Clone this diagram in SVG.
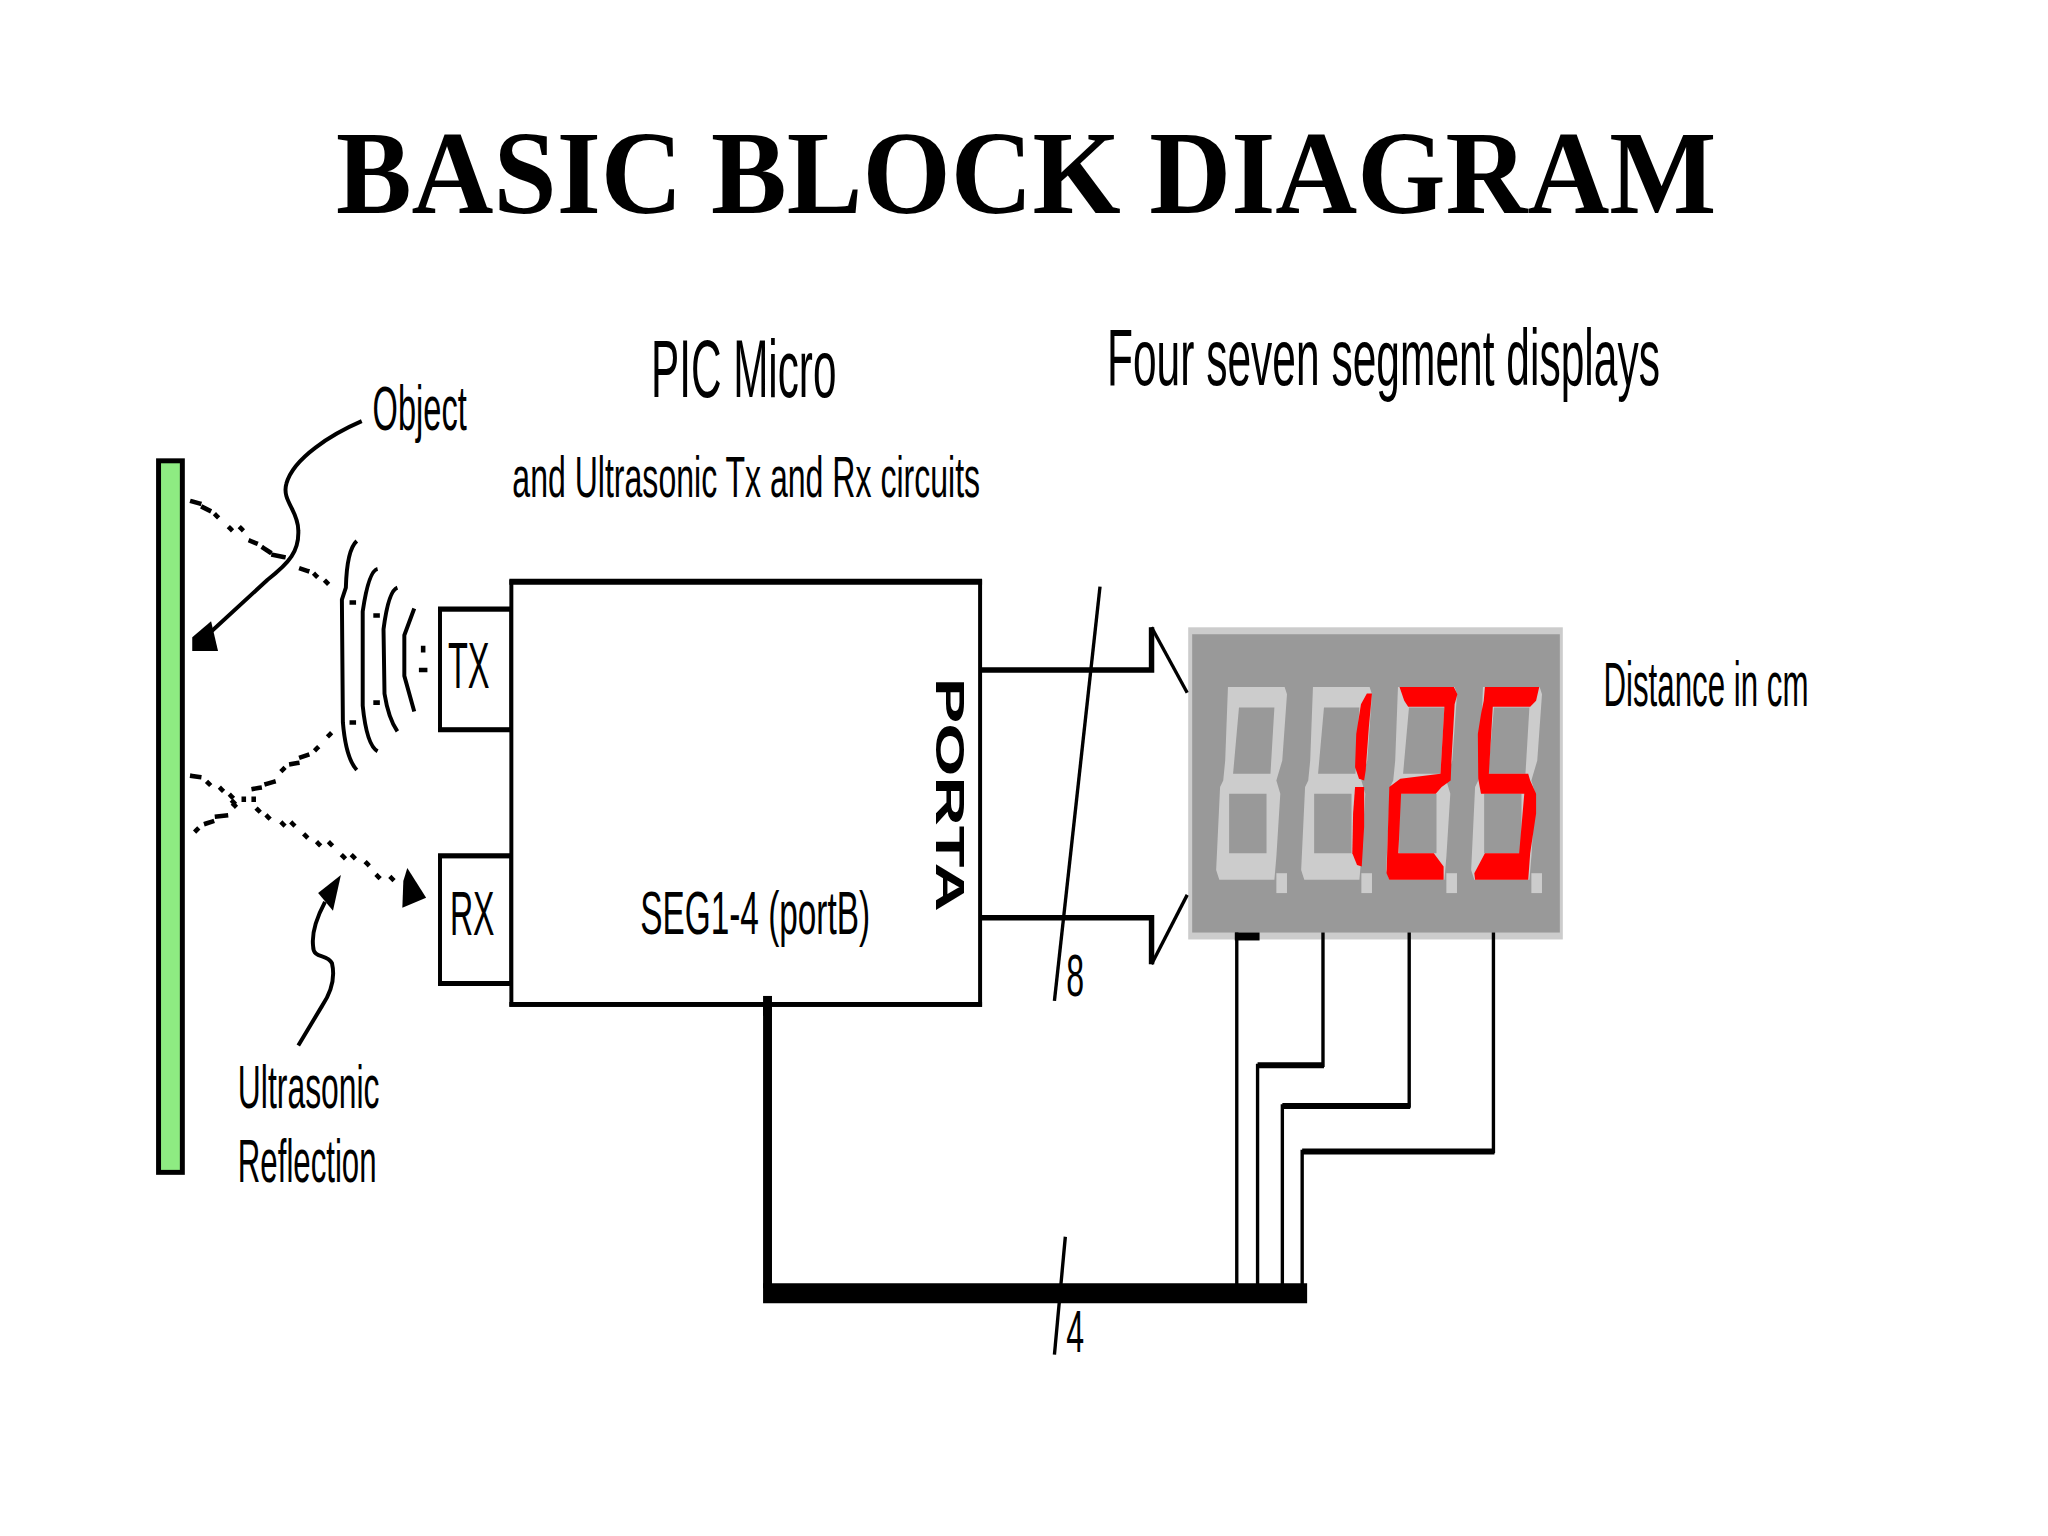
<svg xmlns="http://www.w3.org/2000/svg" width="2048" height="1536" viewBox="0 0 2048 1536">
<style>
.t{font-family:"Liberation Sans",Arial,sans-serif;fill:#000}
.h{font-family:"Liberation Serif","Times New Roman",serif;font-weight:bold;fill:#000}
.box{fill:#fff;stroke:#000;stroke-width:4}
.w{fill:none;stroke:#000;stroke-width:3.4}
.wb{fill:none;stroke:#000;stroke-width:5.5}
.d{fill:none;stroke:#000;stroke-width:4.6;stroke-linecap:square}
.c{fill:none;stroke:#000;stroke-width:4;stroke-linejoin:round}
.s{fill:#000;stroke:none}
.g{fill:#ccc;fill-rule:evenodd}
.r{fill:#f00}
</style>
<defs>
<g id="seg8">
<path class="g" d="M572 378H716L722 400L710 600L695 660L705 700L695 890L690 960H550L542 930L552 680L560 660L565 600ZM600 440L585 640H680L690 440ZM575 700V880H670V700Z"/>
<rect class="g" x="695" y="940" width="27" height="60"/>
</g>
</defs>
<rect width="2048" height="1536" fill="#fff"/>
<g transform="scale(.991)">
<text id="title" class="h" x="339" y="215" font-size="120" textLength="1393" lengthAdjust="spacingAndGlyphs">BASIC BLOCK DIAGRAM</text>

<g id="object-wall"><rect x="160" y="465" width="24" height="718" fill="#8EEB82" stroke="#000" stroke-width="5"/></g>

<g id="display">
<rect x="1199" y="633" width="378" height="315" fill="#ccc"/>
<rect x="1203" y="640" width="371" height="301" fill="#999"/>
<g transform="translate(1199 633) scale(.3971 .3344) translate(-471 -198)">
<use href="#seg8"/>
<use href="#seg8" x="216"/>
<use href="#seg8" x="432"/>
<use href="#seg8" x="648"/>
<path class="r" d="M925 398H938L930 500L922 630L918 660L905 655L895 620L898 520L910 430Z"/>
<path class="r" d="M895 680H918V800L912 920L900 915L888 880L890 760Z"/>
<path class="r" d="M1008 378H1146L1155 400L1148 430L1140 600L1138 660L1115 680L1100 700H1012L1005 880H1095L1120 920V960H982L975 940L982 680L1010 655L1112 640L1122 438H1030L1020 420Z"/>
<path class="r" d="M1225 378H1363L1355 420L1340 438H1245L1235 640H1335L1340 660L1355 700V760L1340 880L1335 960H1200L1198 940L1225 880H1312L1325 700H1215L1208 655L1207 520L1215 460L1222 420Z"/>
</g>
</g>

<g id="connectors">
<path class="d" d="M194 506L201 508M205 512L211 515M218 520L219 521M232 533L233 534M243 533L244 534M253 546L258 548M266 553L272 557M276 560L286 562M304 574L310 576M318 580L319 581M329 587L330 588"/>
<path class="d" d="M332 742L333 741M319 756L320 755M304 764L310 762M294 771L300 770M285 777L286 776M269 791L276 789M256 796L262 795M246 806V807M235 809L236 810M219 824L228 823M208 831L214 829M198 838L199 837"/>
<path class="d" d="M194 783L201 784M210 790L211 791M223 796L224 797M233 803L234 804M236 812L237 813M256 806V807M260 817L261 818M270 824L271 825M285 831L286 832M295 831L296 832M308 843L309 844M321 851L322 852M333 851L334 852M346 864L347 865M356 864L357 865M370 871L371 872M381 884L382 885M395 886L396 887"/>
<polygon class="s" points="411,876 430,906 406,916 407,889"/>
<path class="c" d="M365 425C335 438 296 462 289 488C284 505 301 515 301 535C302 556 292 568 270 585L208 642"/>
<polygon class="s" points="194,657 194,643 213,627 220,657"/>
<path class="c" d="M301 1055L325 1015C335 1000 338 985 335 972C330 962 316 968 316 955C314 940 320 925 328 910"/>
<polygon class="s" points="344,883 321,901 336,919"/>
<path class="c" d="M360 546Q350 555 349 593L345 605L346 729Q349 765 360 777"/>
<path class="c" d="M381 574Q372 576 366 617V712Q370 752 381 758"/>
<path class="c" d="M401 593Q392 596 387 635L388 700Q392 725 401 738"/>
<path class="c" d="M418 614L408 641V682L418 718"/>
<path class="d" d="M427 654V656M425 676H429M355 608H357M379 621H381M379 709H381M355 729H357"/>

<path class="wb" d="M989 676H1162V633"/>
<path class="w" d="M1162 633L1198 699"/>
<path class="wb" d="M989 926H1162V973"/>
<path class="w" d="M1162 973L1198 903"/>
<path class="w" d="M1110 592L1064 1010"/>
<path class="w" d="M1075 1248L1064 1367"/>
<path class="s" d="M770 1295H1319V1315H770Z"/>
<rect class="s" x="770" y="1005" width="9" height="295"/>
<path class="w" d="M1248 941V1300"/>
<rect class="s" x="1246" y="941" width="25" height="8"/>
<path class="w" d="M1335 941V1075H1269V1300"/>
<path class="s" d="M1269 1072H1336V1078H1269Z"/>
<path class="w" d="M1422 941V1116H1294V1300"/>
<path class="s" d="M1294 1113H1423V1119H1294Z"/>
<path class="w" d="M1507 941V1162H1314V1300"/>
<path class="s" d="M1314 1159H1508V1165H1314Z"/>
</g>

<g id="tx"><rect class="box" x="444" y="615" width="72" height="121"/><path class="s" d="M442 612H516V617H442ZM442 734H516V739H442Z"/><text class="t" x="452" y="694" font-size="66" textLength="42" lengthAdjust="spacingAndGlyphs">TX</text></g>
<g id="rx"><rect class="box" x="444" y="864" width="72" height="128"/><path class="s" d="M442 861H516V866H442ZM442 990H516V995H442Z"/><text class="t" x="454" y="943" font-size="64" textLength="45" lengthAdjust="spacingAndGlyphs">RX</text></g>
<g id="pic">
<rect class="box" x="516" y="587" width="473" height="427"/>
<path class="s" d="M514 584H991V590H514ZM514 1011H991V1016H514Z"/>
<text class="t" x="646" y="942" font-size="62" textLength="232" lengthAdjust="spacingAndGlyphs">SEG1-4 (portB)</text>
<text class="t" transform="translate(944 684) rotate(90)" font-size="41" font-weight="bold" textLength="236" lengthAdjust="spacingAndGlyphs">PORTA</text>
</g>
<rect class="s" x="770" y="1005" width="9" height="20"/>

<g id="labels">
<text class="t" x="376" y="434" font-size="63" textLength="95" lengthAdjust="spacingAndGlyphs">Object</text>
<text class="t" x="657" y="401" font-size="83" textLength="187" lengthAdjust="spacingAndGlyphs">PIC Micro</text>
<text class="t" x="517" y="502" font-size="57" textLength="472" lengthAdjust="spacingAndGlyphs">and Ultrasonic Tx and Rx circuits</text>
<text class="t" x="1117" y="388" font-size="81" textLength="558" lengthAdjust="spacingAndGlyphs">Four seven segment displays</text>
<text class="t" x="1618" y="712" font-size="63" textLength="207" lengthAdjust="spacingAndGlyphs">Distance in cm</text>
<text class="t" x="240" y="1118" font-size="62" textLength="143" lengthAdjust="spacingAndGlyphs">Ultrasonic</text>
<text class="t" x="240" y="1193" font-size="62" textLength="140" lengthAdjust="spacingAndGlyphs">Reflection</text>
<text class="t" x="1076" y="1005" font-size="59" textLength="18" lengthAdjust="spacingAndGlyphs">8</text>
<text class="t" x="1076" y="1364" font-size="59" textLength="18" lengthAdjust="spacingAndGlyphs">4</text>
</g>
</g>
</svg>
